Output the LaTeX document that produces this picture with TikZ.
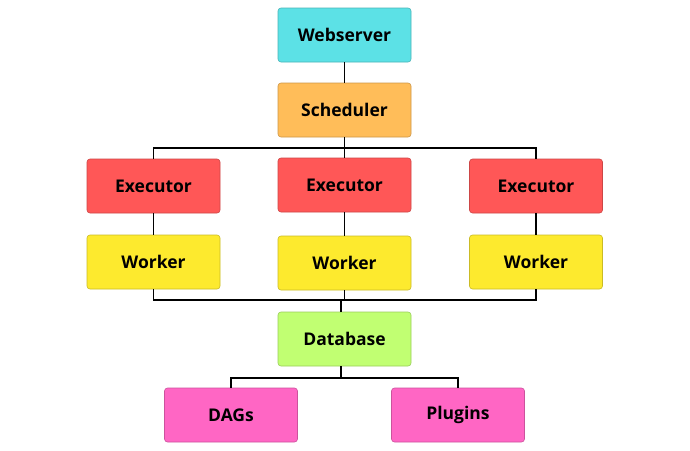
\documentclass[tikz,border=0pt]{standalone}
\usepackage{fontspec}
\setmainfont{Open Sans}
\begin{document}
\begin{tikzpicture}[x=1pt,y=-1pt,
  box/.style={draw=#1!80!black, fill=#1, rounded corners=3pt, minimum width=133pt, minimum height=54pt, line width=0.6pt, font=\fontsize{17.5}{20}\selectfont\bfseries, text=black},
  wire/.style={line width=1.6pt, black}]
\definecolor{cweb}{HTML}{5CE1E6}
\definecolor{csch}{HTML}{FFBD59}
\definecolor{cexe}{HTML}{FF5757}
\definecolor{cwrk}{HTML}{FDEA2E}
\definecolor{cdb}{HTML}{C1FF72}
\definecolor{cpk}{HTML}{FF66C4}
\useasboundingbox (0,0) rectangle (690,450);
\fill[white] (0,0) rectangle (690,450);
\node[box=cweb] (web) at (344.5,35) {Webserver};
\node[box=csch] (sch) at (344.5,110) {Scheduler};
\node[box=cexe] (e1) at (153.5,186) {Executor};
\node[box=cexe] (e2) at (344.5,185) {Executor};
\node[box=cexe] (e3) at (536,186) {Executor};
\node[box=cwrk] (w1) at (153.5,262) {Worker};
\node[box=cwrk] (w2) at (344.5,263) {Worker};
\node[box=cwrk] (w3) at (536,262) {Worker};
\node[box=cdb] (db) at (344.5,339) {Database};
\node[box=cpk] (dag) at (231,415) {DAGs};
\node[box=cpk] (plg) at (458,415) {Plugins};
\coordinate (s1) at (344.5,148);
\coordinate (d1) at (341,300);
\coordinate (d2) at (341,378);
\draw[wire] (web) -- (sch);
\draw[wire] (sch) -- (s1);
\draw[wire] (e1.north) |- (s1) -| (e3.north);
\draw[wire] (s1) -- (e2.north);
\draw[wire] (e1) -- (w1);
\draw[wire] (e2) -- (w2);
\draw[wire] (e3) -- (w3);
\draw[wire] (w1.south) |- (d1) -| (w3.south);
\draw[wire] (w2.south) -- (w2.south |- d1);
\draw[wire] (d1) -- (db.north -| d1);
\draw[wire] (db.south -| d2) -- (d2);
\draw[wire] (dag.north) |- (d2) -| (plg.north);
\end{tikzpicture}
\end{document}
